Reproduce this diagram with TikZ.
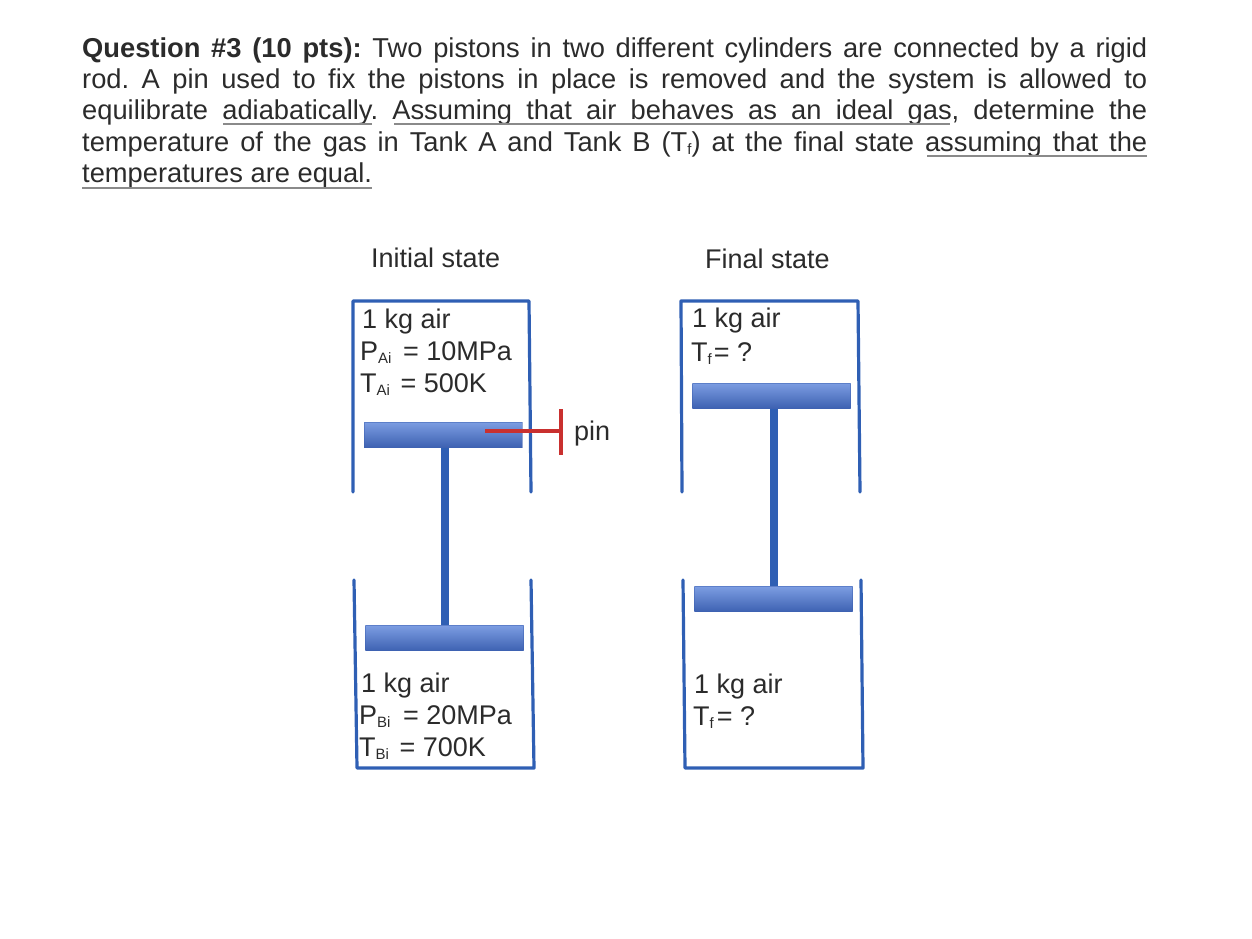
\documentclass[tikz,border=0pt]{standalone}
\usepackage{fontspec}
\setmainfont{Liberation Sans}
\frenchspacing
\definecolor{wallblue}{HTML}{2F5FB4}
\definecolor{pistontop}{HTML}{7C9DE2}
\definecolor{pistonbot}{HTML}{3E62B2}
\definecolor{pinred}{HTML}{C9302F}
\definecolor{inkgrey}{HTML}{2B2B2B}
\definecolor{linegrey}{HTML}{8A8A8A}
\newcommand{\subtxt}[1]{\raisebox{-3pt}{\fontsize{15}{15}\selectfont #1}}
\newcommand{\fullline}[1]{\hbox to 1065pt{#1}}
\tikzset{
  para/.style={anchor=base west,inner sep=0pt,text=inkgrey,font=\fontsize{27.3}{31}\selectfont},
  tag/.style={anchor=base west,inner sep=0pt,text=inkgrey,font=\fontsize{27}{31}\selectfont},
  wall/.style={draw=wallblue,line width=3.2pt,line join=round,line cap=round},
  rod/.style={draw=wallblue,line width=8.5pt},
  piston/.style={inner sep=0pt,minimum width=158pt,minimum height=25pt,top color=pistontop,bottom color=pistonbot,draw=pistonbot,draw opacity=0.5},
  underl/.style={draw=linegrey,line width=2.4pt}
}
\begin{document}
\begin{tikzpicture}[x=1pt,y=-1pt]
\useasboundingbox (0,0) rectangle (1252,938);
% question text
\node[para] (q1) at (82,57) {\fullline{\textbf{Question \#3 (10 pts):} Two pistons in two different cylinders are connected by a rigid}};
\node[para] (q2) at (82,88) {\fullline{rod. A pin used to fix the pistons in place is removed and the system is allowed to}};
\node[para] (q3) at (82,119) {\fullline{equilibrate adiabatically. Assuming that air behaves as an ideal gas, determine the}};
\node[para] (q4) at (82,151) {\fullline{temperature of the gas in Tank A and Tank B (T\subtxt{f}) at the final state assuming that the}};
\node[para] (q5) at (82,182) {temperatures are equal.};
\path[underl] (223,124) -- (372,124);
\path[underl] (394,124) -- (950,124);
\path[underl] (927,156) -- (1147,156);
\path[underl] (82,188) -- (372,188);
% titles
\node[tag] (initial) at (371,267) {Initial state};
\node[tag] (final) at (705,268) {Final state};
% rods
\path[rod] (445,440) -- (445,632);
\path[rod] (774,400) -- (774,592);
% pistons
\node[piston] (pistonAi) at (443,434.5) {};
\node[piston] (pistonBi) at (444.5,638) {};
\node[piston] (pistonAf) at (771.5,395.5) {};
\node[piston] (pistonBf) at (773.5,599) {};
% cylinders
\path[wall] (353,492) -- (353,301) -- (529,301) -- (531,492);
\path[wall] (354,580) -- (357,768) -- (534,768) -- (531,580);
\path[wall] (682,492) -- (681,301) -- (858,301) -- (860,492);
\path[wall] (683,580) -- (685,768) -- (863,768) -- (861,580);
% pin
\coordinate (pinend) at (485,431);
\coordinate (pinhead) at (561,431);
\path[draw=pinred,line width=3.2pt] (pinend) -- (pinhead);
\path[draw=pinred,line width=3.2pt] (561,409) -- (561,455);
\node[tag] (pin) at (574,440) {pin};
% initial state labels
\node[tag] (airAi) at (362,328) {1 kg air};
\node[tag] (pAi) at (360,360) {P\subtxt{Ai}\kern4pt{} = 10MPa};
\node[tag] (tAi) at (360,392) {T\subtxt{Ai}\kern3pt{} = 500K};
\node[tag] (airBi) at (361,692) {1 kg air};
\node[tag] (pBi) at (359,724) {P\subtxt{Bi}\kern5pt{} = 20MPa};
\node[tag] (tBi) at (359,756) {T\subtxt{Bi}\kern3pt{} = 700K};
% final state labels
\node[tag] (airAf) at (692,327) {1 kg air};
\node[tag] (tAf) at (691,361) {T\subtxt{f}\kern2pt{}= ?};
\node[tag] (airBf) at (694,693) {1 kg air};
\node[tag] (tBf) at (693,725) {T\subtxt{f}\kern3pt{}= ?};
\end{tikzpicture}
\end{document}
